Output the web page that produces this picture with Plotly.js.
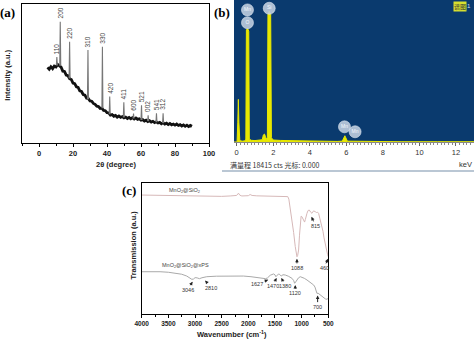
<!DOCTYPE html>
<html>
<head>
<meta charset="utf-8">
<script src="https://cdn.plot.ly/plotly-3.0.1.min.js"></script>
<style>
  html, body { margin: 0; padding: 0; background: #fff; }
  #fig { width: 474px; height: 342px; }
</style>
</head>
<body>
<div id="fig"></div>
<script>
// ---------- (a) XRD pattern ----------
const xrdAngle = [5,6,7,8,9,10,11,12,13,14,15,16,17,18,19,20,21,22,23,24,25,26,27,28,29,30,
  31,32,33,34,35,36,37,38,39,40,41,42,43,44,45,46,47,48,49,50,51,52,53,54,55,56,57,58,59,60,
  61,62,63,64,65,66,67,68,69,70,71,72,73,74,75,76,77,78,79,80,81,82,83,84,85,86,87,88,89,90];
const xrdIntensity = [54.5,53.2,55.0,53.6,55.4,54.8,56.6,55.2,54.6,51.8,51.6,49.0,48.6,46.4,45.8,43.2,
  42.8,40.6,40.2,37.6,37.2,35.0,34.6,32.4,32.2,30.4,30.2,28.6,28.0,26.6,26.4,25.0,25.2,23.6,23.4,22.0,
  21.8,20.2,20.6,19.4,20.0,18.8,19.6,18.6,19.2,18.2,18.8,17.8,18.6,17.6,18.4,17.4,18.2,17.2,17.6,16.6,
  17.0,16.0,16.6,15.6,16.2,15.2,15.8,14.8,15.4,14.6,15.0,14.0,14.8,13.8,14.4,13.4,14.2,13.2,13.8,13.0,
  13.8,12.8,13.4,12.4,13.2,12.2,13.0,12.0,12.8,12.2];
const peakHkl   = ['110','200','220','310','330','420','411','600','521','002','541','312'];
const peakAngle = [10.5,12.5,18.0,28.8,37.3,41.6,49.9,55.6,60.3,64.2,69.1,73.0];
const peakTop   = [61.9,87.3,72.9,66.9,69.3,33.5,29.5,21.3,27.3,20.1,21.6,21.6];
const peakBase  = [55.8,55.6,46.6,31.6,25.1,20.8,18.6,17.8,16.8,15.9,15.1,14.5];

// ---------- (b) EDS spectrum ----------
const edsEnergy = [-0.15,0.02,0.06,0.09,0.12,0.17,0.3,0.45,0.50,0.53,0.60,0.66,0.69,0.8,1.0,1.2,1.4,
  1.46,1.52,1.57,1.62,1.68,1.71,1.78,1.86,1.90,2.0,2.4,3.0,3.5,4.0,4.5,5.0,5.5,5.78,5.92,6.06,6.5,7.0,9,11,13];
const edsCounts = [0,0,14,30,14,1,0.6,0.8,2,79,80,78,2,1.2,1.0,1.3,1.6,
  5,5.6,4,2,3,90,92,90,3,1.4,1.1,0.9,1.0,0.8,0.4,0.4,0.4,0.6,4.4,0.6,0.5,0.3,0.2,0.2,0.2];
const edsTag    = ['Mn','O','Si','Mn','Mn'];
const edsTagKeV = [0.59,0.59,1.78,5.90,6.48];
const edsTagY   = [93,84,94.2,10.7,7.2];

// ---------- (c) FTIR spectra ----------
const silicaWave = [4000,3700,3343,3000,2717,2500,2341,2220,2185,2160,2122,2000,1966,1930,1841,1600,1400,
  1308,1260,1240,1215,1182,1150,1120,1100,1088,1075,1057,1040,1026,1010,995,975,963,945,930,915,900,880,
  857,830,807,790,770,744,720,700,682,660,640,619,600,580,556,530,515,500];
const silicaT = [90.6,90.4,90.1,89.6,89.3,89.6,89.9,90.3,92.0,90.5,89.9,90.1,91.0,90.3,90.0,89.8,90.0,
  90.0,89.4,87.5,81,71.6,62,51.3,46,43.6,44.5,48.7,60,71.6,74.5,74.1,72.5,71.6,70.0,72,75,76.7,78.8,
  79.2,77.5,76.7,78,78.5,77.9,77.3,77.5,76.7,73,70,67.8,63,58,52.6,48,45.5,43.6];
const xpsWave = [4000,3800,3656,3500,3343,3250,3155,3100,3060,3030,2999,2960,2917,2870,2780,2600,2404,
  2200,2091,1950,1841,1740,1677,1640,1590,1527,1500,1483,1460,1433,1410,1383,1350,1308,1250,1182,1150,
  1132,1110,1088,1060,1026,980,950,900,850,810,775,750,730,713,690,650,620,588,555,525,510,500];
const xpsT = [32.2,32.3,32.2,31.8,31.0,30.3,28.9,27.6,26.4,26.6,27.7,27.5,26.9,27.6,28.4,28.8,28.9,
  28.8,28.9,28.4,27.9,27.5,26.9,27.5,29.5,30.5,29.8,28.4,29.6,30.5,30.1,28.9,29.9,29.7,28.8,27.2,25.5,
  23.4,24.5,25.9,27.5,28.4,27.8,27.2,25.9,24.5,23.5,22.1,20.5,17.5,15.7,15.8,14.5,13.5,12.0,11.5,11.2,11.5,12.0];
const irBand  = [1088,815,460,3046,2810,1627,1470,1380,1120,700];
const irTipT  = [42,74,42,24.6,25.5,26,27.5,27.5,22,14];

// ---------- layout helpers ----------
const W = 474, H = 342;
const px = v => v / W;
const py = v => 1 - v / H;
const ARIAL = 'Liberation Sans, Arial, sans-serif';
const SERIF = 'Liberation Serif, Times New Roman, serif';

// peak sticks: one short segment per reflection
const stickX = [], stickY = [];
peakAngle.forEach((a, i) => {
  stickX.push(a - 0.3, a, a + 0.3, null);
  stickY.push(peakBase[i], peakTop[i], peakBase[i], null);
});

const traces = [
  { x: xrdAngle, y: xrdIntensity, xaxis: 'x', yaxis: 'y', mode: 'lines',
    line: { color: '#111', width: 2.8 }, hoverinfo: 'skip' },
  { x: stickX, y: stickY, xaxis: 'x', yaxis: 'y', mode: 'lines',
    line: { color: '#777', width: 1.1 }, hoverinfo: 'skip' },
  { x: edsEnergy, y: edsCounts, xaxis: 'x2', yaxis: 'y2', mode: 'lines', fill: 'tozeroy',
    fillcolor: '#e8e800', line: { color: '#e8e800', width: 1 }, hoverinfo: 'skip' },
  { x: edsTagKeV, y: edsTagY, xaxis: 'x2', yaxis: 'y2', mode: 'markers+text', text: edsTag,
    textposition: 'middle center', textfont: { size: 5, color: '#f4f8ff', family: ARIAL },
    marker: { size: 12, color: 'rgba(190,205,222,0.9)', line: { color: '#dfe8f2', width: 0.6 } },
    hoverinfo: 'skip' },
  { x: silicaWave, y: silicaT, xaxis: 'x3', yaxis: 'y3', mode: 'lines',
    line: { color: '#d6b8b8', width: 1 }, hoverinfo: 'skip' },
  { x: xpsWave, y: xpsT, xaxis: 'x3', yaxis: 'y3', mode: 'lines',
    line: { color: '#a9a9a9', width: 1 }, hoverinfo: 'skip' }
];

const irRange = [4000, 500];
const irOffset = [[0,9],[4,9],[-4,9],[-5,8],[6,7],[-11,4],[-4,8],[4,8],[0,8],[0,11]];

// paper-positioned text, centred on the given pixel position
const paperText = (x, y, text, font, extra) => Object.assign({
  xref: 'paper', yref: 'paper', x: px(x), y: py(y), xanchor: 'center', yanchor: 'middle',
  text: text, showarrow: false, font: font
}, extra || {});

const letterFont = { family: SERIF, size: 13, color: '#000', weight: 'bold' };
const titleFont = { family: ARIAL, size: 7.5, color: '#222', weight: 'bold' };

const annotations = [
  paperText(7, 12, '(a)', letterFont),
  paperText(222, 12, '(b)', letterFont),
  paperText(129, 190, '(c)', letterFont),
  paperText(6.7, 75, 'Intensity (a.u.)', titleFont, { textangle: -90 }),
  paperText(116, 165, '2θ (degree)', titleFont),
  paperText(132.5, 245, 'Transmission (a.u.)', titleFont, { textangle: -90 }),
  paperText(232, 333.5, 'Wavenumber (cm<sup>-1</sup>)', titleFont),
  // EDS status bar
  paperText(228, 165, '满量程 18415 cts 光标: 0.000',
    { family: 'Noto Sans CJK SC', size: 7, color: '#333' }, { xanchor: 'left' }),
  paperText(474, 164, 'keV', { family: ARIAL, size: 7.5, color: '#333' }, { xanchor: 'right' }),
  paperText(459.5, 6.5, '谱图', { family: 'Noto Sans CJK SC', size: 6, color: '#333' },
    { bgcolor: '#d8e030', borderpad: 0 }),
  paperText(469, 6.5, '1', { family: ARIAL, size: 6, color: '#dde' }),
  // curve names in (c)
  { xref: 'x3', yref: 'y3', x: 3205, y: 93.9, text: 'MnO<sub>2</sub>@SiO<sub>2</sub>', showarrow: false,
    font: { family: ARIAL, size: 5.5, color: '#444' } },
  { xref: 'x3', yref: 'y3', x: 3174, y: 37.3, text: 'MnO<sub>2</sub>@SiO<sub>2</sub>@xPS', showarrow: false,
    font: { family: ARIAL, size: 5.5, color: '#444' } }
];

// reflection indices above the XRD peaks
peakHkl.forEach((t, i) => annotations.push({
  xref: 'x', yref: 'y', x: peakAngle[i], y: peakTop[i], text: t, textangle: -90,
  xanchor: 'center', yanchor: 'bottom', yshift: 1, showarrow: false,
  font: { family: ARIAL, size: 6.5, color: '#444' }
}));

// band assignments with small arrows
irBand.forEach((b, i) => annotations.push({
  xref: 'x3', yref: 'y3', x: Math.max(b, irRange[1] + 5), y: irTipT[i], text: String(b),
  showarrow: true, arrowhead: 2, arrowsize: 0.7, arrowwidth: 1, arrowcolor: '#222',
  ax: irOffset[i][0], ay: irOffset[i][1], standoff: 0,
  font: { family: ARIAL, size: 5.5, color: '#333' }
}));

const frameAxis = {
  showline: true, mirror: true, linecolor: '#000', linewidth: 1,
  showgrid: false, zeroline: false
};

const layout = {
  width: W, height: H,
  margin: { l: 0, r: 0, t: 0, b: 0 },
  paper_bgcolor: '#fff', plot_bgcolor: 'rgba(0,0,0,0)',
  showlegend: false,
  font: { family: ARIAL },
  xaxis: Object.assign({}, frameAxis, {
    domain: [px(22), px(209)], anchor: 'y', range: [-10, 100],
    tick0: 0, dtick: 20, ticks: 'outside', ticklen: 3, tickwidth: 1, tickcolor: '#000',
    minor: { dtick: 10, ticks: 'outside', ticklen: 2, tickcolor: '#000' },
    tickfont: { family: ARIAL, size: 7.5, color: '#222', weight: 'bold' }
  }),
  yaxis: Object.assign({}, frameAxis, {
    domain: [py(143.3), py(4)], anchor: 'x', range: [0, 100],
    ticks: '', showticklabels: false
  }),
  xaxis2: {
    domain: [px(234), 1], anchor: 'y2', range: [-0.148, 12.99],
    showline: true, linecolor: '#888', linewidth: 1, showgrid: false, zeroline: false,
    tick0: 0, dtick: 2, ticks: 'outside', ticklen: 3, tickcolor: '#666',
    minor: { dtick: 0.2, ticks: 'outside', ticklen: 1.5, tickcolor: '#888' },
    tickfont: { family: ARIAL, size: 7.5, color: '#333' }
  },
  yaxis2: {
    domain: [py(142), 1], anchor: 'x2', range: [0, 100],
    showline: false, showgrid: false, zeroline: false, showticklabels: false, ticks: ''
  },
  xaxis3: Object.assign({}, frameAxis, {
    domain: [px(141.7), px(328.3)], anchor: 'y3', range: irRange,
    tick0: 500, dtick: 500, ticks: 'outside', ticklen: 3, tickwidth: 1, tickcolor: '#000',
    minor: { dtick: 250, ticks: 'outside', ticklen: 2, tickcolor: '#000' },
    tickfont: { family: ARIAL, size: 6.5, color: '#222', weight: 'bold' }
  }),
  yaxis3: Object.assign({}, frameAxis, {
    domain: [py(314), py(182.7)], anchor: 'x3', range: [0, 100],
    ticks: '', showticklabels: false
  }),
  shapes: [
    { type: 'rect', xref: 'x2 domain', yref: 'y2 domain', x0: 0, x1: 1, y0: 0, y1: 1,
      fillcolor: '#0a3a6e', line: { width: 0 }, layer: 'below' },
    { type: 'line', xref: 'paper', yref: 'paper', x0: px(222), x1: 1, y0: py(171), y1: py(171),
      line: { color: '#a3b4c6', width: 1.5 } }
  ],
  annotations: annotations
};

Plotly.newPlot('fig', traces, layout, { staticPlot: true, displayModeBar: false });
</script>
</body>
</html>
